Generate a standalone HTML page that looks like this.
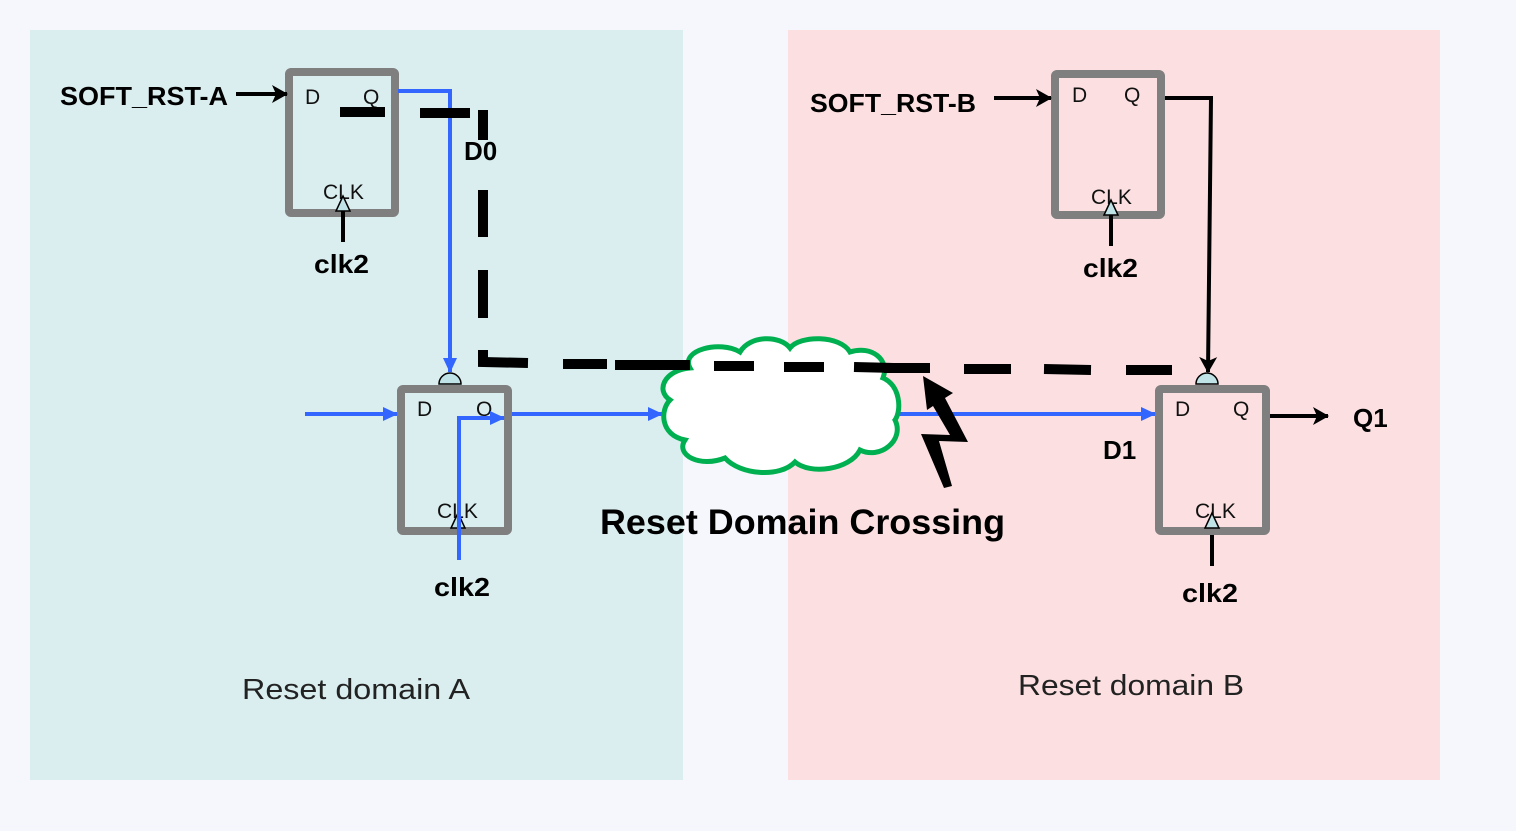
<!DOCTYPE html>
<html><head><style>
html,body{margin:0;padding:0;background:#f5f7fd;}
svg{display:block;}
text{font-family:"Liberation Sans","DejaVu Sans",sans-serif;}
.b{font-weight:bold;font-size:26px;}
.p{font-size:21px;fill:#111;}
</style></head><body>
<svg width="1516" height="831" viewBox="0 0 1516 831" xmlns="http://www.w3.org/2000/svg">
<defs>
<marker id="ab" markerWidth="16" markerHeight="16" refX="14" refY="8" orient="auto" markerUnits="userSpaceOnUse"><path d="M0,1 L15,8 L0,15 Z" fill="#3366ff"/></marker>
<marker id="ak" markerWidth="20" markerHeight="20" refX="17" refY="10" orient="auto" markerUnits="userSpaceOnUse"><path d="M2,1 L18,10 L2,19 L6,10 Z" fill="#000"/></marker>
</defs>
<rect width="1516" height="831" fill="#f5f7fd"/>
<rect x="30" y="30" width="653" height="750" fill="#daeef0"/>
<rect x="788" y="30" width="652" height="750" fill="#fce0e1"/>

<g fill="none" stroke="#7f7f7f" stroke-width="8">
<rect x="289" y="72" width="106" height="141" rx="2"/>
<rect x="401" y="389" width="107" height="142" rx="2"/>
<rect x="1055" y="74" width="106" height="141" rx="2"/>
<rect x="1159" y="389" width="107" height="142" rx="2"/>
</g>
<g class="p">
<text x="305" y="104">D</text><text x="363" y="104">Q</text><text x="323" y="199">CLK</text>
<text x="417" y="416">D</text><text x="476" y="416">Q</text><text x="437" y="518">CLK</text>
<text x="1072" y="102">D</text><text x="1124" y="102">Q</text><text x="1091" y="204">CLK</text>
<text x="1175" y="416">D</text><text x="1233" y="416">Q</text><text x="1195" y="518">CLK</text>
</g>
<g fill="#bfe3e6" stroke="#000" stroke-width="1.5">
<path d="M343,196 L336,211 L350,211 Z"/>
<path d="M458,513 L451,528 L465,528 Z"/>
<path d="M1111,200 L1104,215 L1118,215 Z"/>
<path d="M1212,513 L1205,528 L1219,528 Z"/>
<path d="M439,384 A11,11 0 0 1 461,384 Z"/>
<path d="M1196,384 A11,11 0 0 1 1218,384 Z"/>
</g>
<g stroke="#000" stroke-width="4">
<line x1="343" y1="211" x2="343" y2="242"/>
<line x1="1111" y1="215" x2="1111" y2="246"/>
<line x1="1212" y1="535" x2="1212" y2="566"/>
</g>
<g stroke="#000" stroke-width="4" fill="none">
<line x1="236" y1="94" x2="287" y2="94" marker-end="url(#ak)"/>
<line x1="994" y1="98" x2="1051" y2="98" marker-end="url(#ak)"/>
<polyline points="1165,98 1211,98 1208,372" marker-end="url(#ak)"/>
<line x1="1270" y1="416" x2="1328" y2="416" marker-end="url(#ak)"/>
</g>
<g stroke="#3366ff" stroke-width="4" fill="none">
<polyline points="398,91 450,91 450,372" marker-end="url(#ab)"/>
<line x1="305" y1="414" x2="397" y2="414" marker-end="url(#ab)"/>
<polyline points="459,560 459,418 504,418" marker-end="url(#ab)"/>
<line x1="512" y1="414" x2="662" y2="414" marker-end="url(#ab)"/>
<line x1="895" y1="414" x2="1155" y2="414" marker-end="url(#ab)"/>
</g>
<path d="M690,368 C680,350 720,340 740,352 C750,335 780,335 790,348 C800,335 840,335 850,352 C872,345 890,360 883,378 C900,385 902,410 895,420 C905,440 880,460 860,450 C850,470 810,475 795,462 C780,478 740,475 725,458 C700,468 675,455 685,440 C660,435 660,410 670,400 C655,390 665,370 690,368 Z" fill="#fff" stroke="#00b050" stroke-width="5"/>
<g stroke="#000" stroke-width="10" fill="none">
<line x1="340" y1="112" x2="385" y2="112"/>
<polyline points="420,113 470,113" />
<line x1="483" y1="110" x2="483" y2="140"/>
<line x1="483" y1="190" x2="483" y2="237"/>
<line x1="483" y1="270" x2="483" y2="318"/>
<polyline points="483,350 483,362 528,363"/>
<line x1="563" y1="364" x2="607" y2="364"/>
<line x1="615" y1="365" x2="690" y2="365"/>
<line x1="714" y1="366" x2="754" y2="366"/>
<line x1="784" y1="367" x2="824" y2="367"/>
<line x1="854" y1="367" x2="894" y2="368"/>
<line x1="884" y1="368" x2="930" y2="368"/>
<line x1="964" y1="369" x2="1011" y2="369"/>
<line x1="1044" y1="369" x2="1091" y2="370"/>
<line x1="1126" y1="370" x2="1172" y2="370"/>
</g>
<path d="M923,376 L953,393 L945,398 L968,442 L939,441 L952,486 L944,488 L921,434 L950,435 L933,406 L927,410 Z" fill="#000"/>

<g class="b" fill="#000">
<text x="60" y="105" textLength="168" lengthAdjust="spacingAndGlyphs">SOFT_RST-A</text>
<text x="810" y="112" textLength="166" lengthAdjust="spacingAndGlyphs">SOFT_RST-B</text>
<text x="464" y="160">D0</text>
<text x="314" y="273" textLength="55" lengthAdjust="spacingAndGlyphs">clk2</text>
<text x="434" y="596" textLength="56" lengthAdjust="spacingAndGlyphs">clk2</text>
<text x="1083" y="277" textLength="55" lengthAdjust="spacingAndGlyphs">clk2</text>
<text x="1182" y="602" textLength="56" lengthAdjust="spacingAndGlyphs">clk2</text>
<text x="1103" y="459">D1</text>
<text x="1353" y="427">Q1</text>
<text x="600" y="534" style="font-size:35px" textLength="405" lengthAdjust="spacingAndGlyphs">Reset Domain Crossing</text>
</g>
<text x="242" y="699" style="font-size:29px" fill="#222" textLength="228" lengthAdjust="spacingAndGlyphs">Reset domain A</text>
<text x="1018" y="695" style="font-size:29px" fill="#222" textLength="226" lengthAdjust="spacingAndGlyphs">Reset domain B</text>
</svg>
</body></html>
